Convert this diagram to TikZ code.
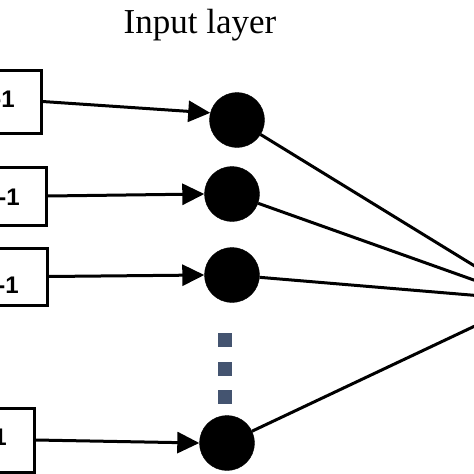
\documentclass[tikz,border=0pt]{standalone}
\usepackage{fontspec}
\setmainfont{Liberation Serif}
\newfontfamily\boxfont{Liberation Sans}
\usetikzlibrary{arrows.meta}
\definecolor{dotcol}{RGB}{68,84,112}
\tikzset{
  inbox/.style={draw, line width=3pt, rectangle, inner sep=0pt, minimum width=80pt},
  boxlabel/.style={anchor=base east, inner sep=0pt, font=\boxfont\bfseries\fontsize{24}{26}\selectfont},
  neuron/.style={circle, fill=black, draw=black, inner sep=0pt, minimum size=55pt},
  arr/.style={line width=3pt, -{Triangle[length=22pt,width=21pt]}},
  link/.style={line width=3pt},
  dotsq/.style={fill=dotcol, draw=none, minimum size=14pt, inner sep=0pt, rectangle}
}
\begin{document}
\begin{tikzpicture}[x=1pt,y=-1pt]
\useasboundingbox (0,0) rectangle (474,474);
\clip (0,0) rectangle (474,474);
% title
\node[anchor=base, inner sep=0pt, font=\fontsize{35}{40}\selectfont] (title) at (200,33) {Input layer};
% boxes
\node[inbox, minimum height=63pt] (b1) at (1,101.5) {};
\node[inbox, minimum height=58pt] (b2) at (6,196) {};
\node[inbox, minimum height=57pt] (b3) at (7,276.5) {};
\node[inbox, minimum height=64pt] (b4) at (-6,440) {};
\node[boxlabel] (t1) at (15,107) {-1};
\node[boxlabel] (t2) at (20,205) {-1};
\node[boxlabel] (t3) at (19,293) {-1};
\node[boxlabel] (t4) at (7,445) {-1};
% neurons
\node[neuron] (c1) at (237,120) {};
\node[neuron] (c2) at (232,194) {};
\node[neuron] (c3) at (232,275) {};
\node[neuron] (c4) at (227,443) {};
% dots
\node[dotsq] (d1) at (224.5,340) {};
\node[dotsq] (d2) at (224.5,369) {};
\node[dotsq] (d3) at (224.5,397) {};
% arrows
\draw[arr] (b1.east) -- (c1.165);
\draw[arr] (b2.east) -- (c2.west);
\draw[arr] (b3.east) -- (c3.west);
\draw[arr] (b4.east) -- (c4.west);
% links to output (off picture)
\coordinate (o) at (530,300);
\draw[link] (c1) -- (o);
\draw[link] (c2) -- (o);
\draw[link] (c3) -- (o);
\draw[link] (c4) -- (o);
\end{tikzpicture}
\end{document}
